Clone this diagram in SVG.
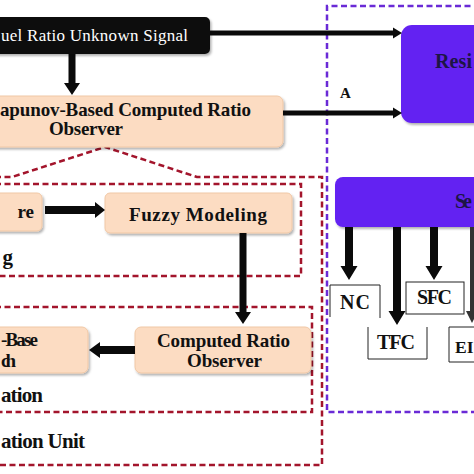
<svg xmlns="http://www.w3.org/2000/svg" width="474" height="474" viewBox="0 0 474 474">
<defs>
<style>
.peach{fill:#fcdcc2;stroke:#f0c8a6;stroke-width:1}
.t{font-family:"Liberation Serif","DejaVu Serif",serif;font-weight:bold;fill:#111}
.red{fill:none;stroke:#a3152c;stroke-width:2.5;stroke-dasharray:6 3.5}
.pur{fill:none;stroke:#6a2ad6;stroke-width:2.5;stroke-dasharray:6 3.5}
.vio{fill:#6420f2}
.box{fill:#fff;stroke:#222;stroke-width:1}
.vt{font-family:"Liberation Serif","DejaVu Serif",serif;font-weight:bold;fill:#1d1546}
</style>
<filter id="sh" x="-10%" y="-10%" width="130%" height="140%">
<feDropShadow dx="1.5" dy="2" stdDeviation="1.2" flood-color="#000" flood-opacity="0.3"/>
</filter>
</defs>
<rect width="474" height="474" fill="#fff"/>

<g id="regions">
<path class="red" d="M-5 177 L12 177 L105 147 L197 177 L322 177 L322 465 L-5 465"/>
<path class="red" d="M-5 184 L301 184 L301 276 L-5 276"/>
<path class="red" d="M-5 307 L312 307 L312 412 L-5 412"/>
<path class="pur" d="M480 6 L327 6 L327 412 L480 412"/>
</g>

<g id="signal">
<rect x="-10" y="17" width="220" height="37" rx="5" fill="#0e0e0e" filter="url(#sh)"/>
<text x="1" y="41" font-family="Liberation Serif,serif" font-size="17" fill="#fff" textLength="187">uel Ratio Unknown Signal</text>
</g>

<g id="observer1">
<rect class="peach" x="-10" y="96" width="293" height="51" rx="6" filter="url(#sh)"/>
<text class="t" x="0" y="116" font-size="19" textLength="251">apunov-Based Computed Ratio</text>
<text class="t" x="49" y="135" font-size="19" textLength="74">Observer</text>
</g>

<g id="feature">
<rect class="peach" x="-10" y="193" width="52" height="38" rx="5" filter="url(#sh)"/>
<text class="t" x="34" y="218" font-size="19" text-anchor="end">re</text>
</g>

<g id="fuzzy">
<rect class="peach" x="105" y="193" width="187" height="40" rx="5" filter="url(#sh)"/>
<text class="t" x="129" y="221" font-size="19" textLength="138">Fuzzy Modeling</text>
</g>

<g id="computed">
<rect class="peach" x="135" y="327" width="176" height="46" rx="6" filter="url(#sh)"/>
<text class="t" x="157" y="347" font-size="19" textLength="133">Computed Ratio</text>
<text class="t" x="187" y="367" font-size="19" textLength="75">Observer</text>
</g>

<g id="knowledge">
<rect class="peach" x="-10" y="327" width="98" height="46" rx="6" filter="url(#sh)"/>
<text class="t" x="1" y="346" font-size="19" textLength="37">-Base</text>
<text class="t" x="1" y="367" font-size="19" textLength="15">ch</text>
</g>

<g id="labels">
<text class="t" x="13" y="264" font-size="21" text-anchor="end">g</text>
<text class="t" x="1" y="402" font-size="21" textLength="42">ation</text>
<text class="t" x="1" y="448" font-size="21" textLength="84">ation Unit</text>
<text class="t" x="340" y="98" font-size="15">A</text>
</g>

<g id="residual">
<rect class="vio" x="401" y="25" width="90" height="98" rx="11" filter="url(#sh)"/>
<text class="vt" x="435" y="68" font-size="20" textLength="37">Resi</text>
</g>

<g id="selector">
<rect class="vio" x="335" y="177" width="150" height="50" rx="8" filter="url(#sh)"/>
<text class="vt" x="455" y="208" font-size="20" textLength="17">Se</text>
</g>

<g id="nc">
<path class="box" fill="none" d="M330 317 L330 285 L380 285 L380 318"/>
<text class="t" x="340" y="309" font-size="20" textLength="30">NC</text>
</g>
<g id="sfc">
<rect class="box" x="406" y="282" width="58" height="32"/>
<text class="t" x="417" y="304" font-size="20" textLength="35">SFC</text>
</g>
<g id="tfc">
<path class="box" fill="none" d="M368 327 L368 359 L427 359 L427 327"/>
<text class="t" x="377" y="349" font-size="20" textLength="38">TFC</text>
</g>
<g id="ei">
<path class="box" fill="none" d="M480 327 L449 327 L449 362 L480 362"/>
<text class="t" x="455" y="353" font-size="17.5">EI</text>
</g>

<g id="connectors" fill="#0a0a0a">
<path d="M68.5 54 H75.5 V83 H80 L72 95 L64 83 H68.5 Z"/>
<path d="M210 30.5 H393 V27.5 L402 33 L393 38.5 V35.5 H210 Z"/>
<path d="M283 110.5 H393 V107.5 L402 113 L393 118.5 V115.5 H283 Z"/>
<path d="M45 206 H95 V202 L105 210 L95 218 V214 H45 Z"/>
<path d="M239.5 233 H246.5 V312 H251 L243 324 L235 312 H239.5 Z"/>
<path d="M135 346 H100 V342 L89 350 L100 358 V354 H135 Z"/>
<path d="M345 227 H353 V266 H357.5 L349 280 L340.5 266 H345 Z"/>
<path d="M393 227 H401 V311 H405.5 L397 325 L388.5 311 H393 Z"/>
<path d="M430 227 H438 V266 H442.5 L434 280 L425.5 266 H430 Z"/>
<path d="M470 227 H476 V311 H478 L472 323 L466 311 H470 Z" fill="#333"/>
</g>
</svg>
